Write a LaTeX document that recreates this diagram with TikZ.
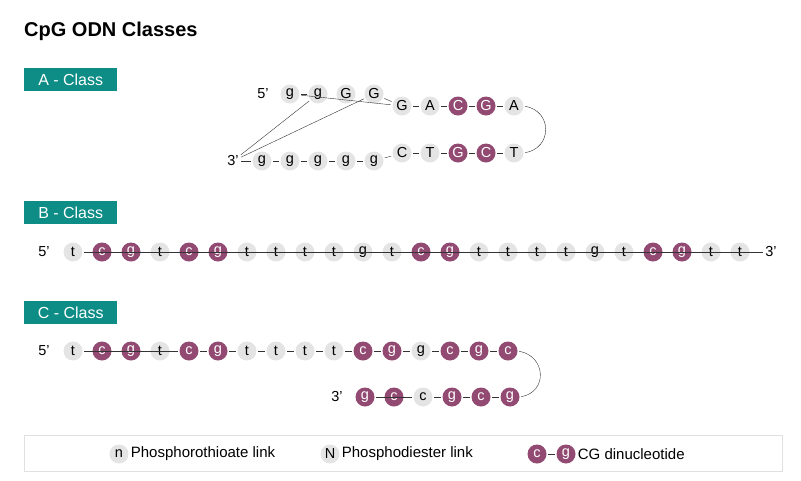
\documentclass[tikz,border=0pt]{standalone}
\usepackage{fontspec}
\setmainfont{Liberation Sans}
\usetikzlibrary{positioning}
\definecolor{teal1}{HTML}{0E8C86}
\definecolor{cgpurple}{HTML}{924A72}
\definecolor{basegrey}{HTML}{E4E4E4}
\tikzset{
  n/.style={circle,fill=basegrey,minimum size=19pt,inner sep=0pt,font=\fontsize{14.5}{14.5}\selectfont},
  p/.style={n,fill=cgpurple,text=white},
  end/.style={inner sep=1pt,font=\fontsize{14.5}{14.5}\selectfont},
  link/.style={draw=black!80,thin,shorten <=1.5pt,shorten >=1.5pt},
  classbox/.style={fill=teal1,text=white,anchor=north west,minimum width=93pt,minimum height=23pt,inner sep=0pt,font=\fontsize{16}{16}\selectfont},
  legtext/.style={anchor=west,inner sep=2pt,font=\fontsize{15}{15}\selectfont}
}
\begin{document}
\begin{tikzpicture}[x=1pt,y=-1pt]
\useasboundingbox (0,0) rectangle (801,480);

\node[anchor=west,inner sep=0pt,font=\bfseries\fontsize{20}{20}\selectfont] (title) at (24,31) {CpG ODN Classes};

% A - Class
\node[classbox] (ha) at (24,68) {A\ -\ Class};
\node[end] (a5) at (263,94) {5'};
\foreach \l/\s [count=\i] in {g/n,g/n,G/n,G/n}
  \node[\s] (a\i) at (262+28*\i,94) {\l};
\foreach \l/\s [count=\i from 5] in {G/n,A/n,C/p,G/p,A/n}
  \node[\s] (a\i) at (402+28*\i-140,106) {\l};
\node[end] (a3) at (233,161) {3'};
\foreach \l/\s [count=\i] in {g/n,g/n,g/n,g/n,g/n}
  \node[\s] (c\i) at (234+28*\i,161) {\l};
\foreach \l/\s [count=\i from 6] in {C/n,T/n,G/p,C/p,T/n}
  \node[\s] (c\i) at (402+28*\i-168,153) {\l};
\draw[link] (a5) -- (a1);
\foreach \i [count=\j from 2] in {1,...,8} \draw[link] (a\i) -- (a\j);
\draw[link] (a3) -- (c1);
\foreach \i [count=\j from 2] in {1,...,9} \draw[link] (c\i) -- (c\j);
\draw[link] (a9.east) to[out=-10,in=10,looseness=1.6] (c10.east);

% B - Class
\node[classbox] (hb) at (24,201) {B\ -\ Class};
\node[end] (b5) at (44,252) {5'};
\foreach \l/\s [count=\i] in {t/n,c/p,g/p,t/n,c/p,g/p,t/n,t/n,t/n,t/n,g/n,t/n,c/p,g/p,t/n,t/n,t/n,t/n,g/n,t/n,c/p,g/p,t/n,t/n}
  \node[\s] (b\i) at (44+29*\i,252) {\l};
\node[end] (b3) at (771,252) {3'};
\draw[link] (b5) -- (b1);
\foreach \i [count=\j from 2] in {1,...,23} \draw[link] (b\i) -- (b\j);
\draw[link] (b24) -- (b3);

% C - Class
\node[classbox] (hc) at (24,301) {C\ -\ Class};
\node[end] (d5) at (44,351) {5'};
\foreach \l/\s [count=\i] in {t/n,c/p,g/p,t/n,c/p,g/p,t/n,t/n,t/n,t/n,c/p,g/p,g/n,c/p,g/p,c/p}
  \node[\s] (d\i) at (44+29*\i,351) {\l};
\node[end] (e3) at (337,397) {3'};
\foreach \l/\s [count=\i] in {g/p,c/p,c/n,g/p,c/p,g/p}
  \node[\s] (e\i) at (336+29*\i,397) {\l};
\draw[link] (d5) -- (d1);
\foreach \i [count=\j from 2] in {1,...,15} \draw[link] (d\i) -- (d\j);
\draw[link] (e3) -- (e1);
\foreach \i [count=\j from 2] in {1,...,5} \draw[link] (e\i) -- (e\j);
\draw[link] (d16.east) to[out=-10,in=10,looseness=1.6] (e6.east);

% legend
\draw[black!12] (24,435) rectangle (782,471);
\node[n] (ln) at (119,454) {n};
\node[legtext] (lnt) at (ln.east) {Phosphorothioate link};
\node[n] (lN) at (330,454) {N};
\node[legtext] (lNt) at (lN.east) {Phosphodiester link};
\node[p] (lc) at (537,454) {c};
\node[p] (lg) at (566,454) {g};
\draw[link] (lc) -- (lg);
\node[legtext] (lgt) at (lg.east) {CG dinucleotide};
\end{tikzpicture}
\end{document}
